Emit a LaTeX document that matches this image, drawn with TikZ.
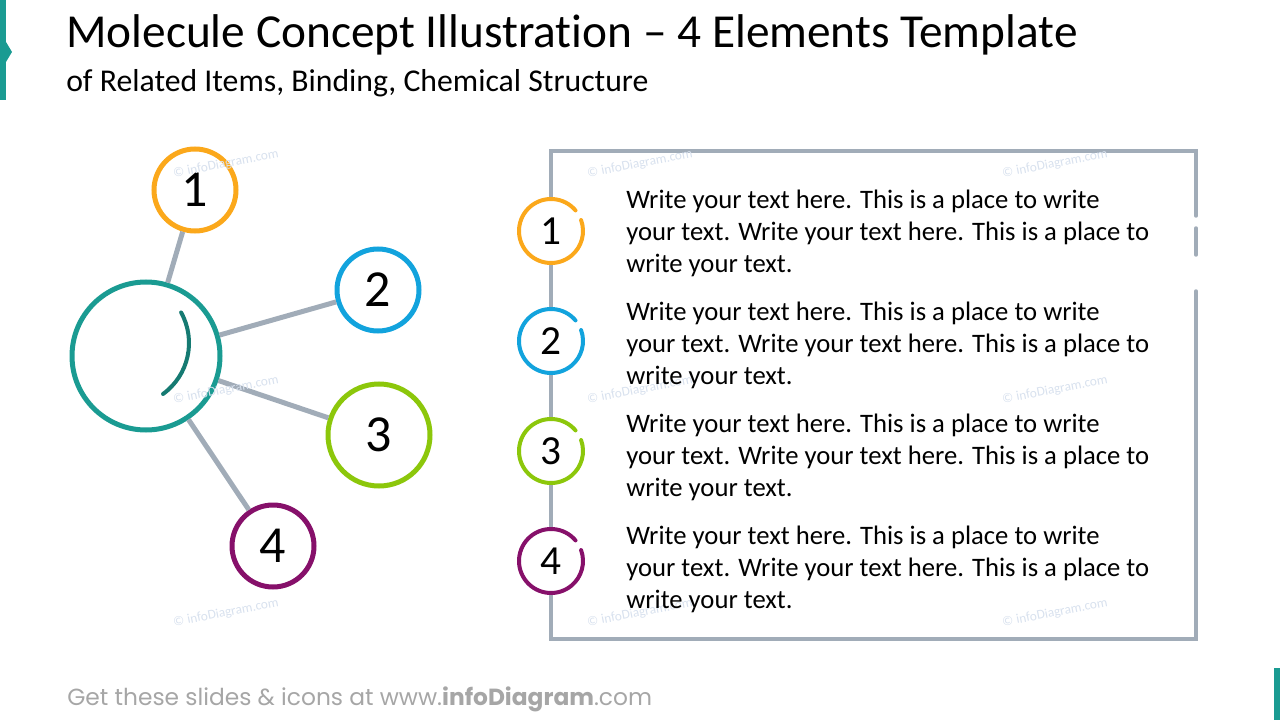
\documentclass[tikz,border=0pt]{standalone}
\usepackage{fontspec}
\setmainfont{Carlito}[Ligatures=CommonOff]
\newfontfamily\footfont{Poppins}
\usepackage{xcolor}
\usetikzlibrary{positioning, calc}

\definecolor{tealmain}{HTML}{1A9B92}
\definecolor{tealdark}{HTML}{157A72}
\definecolor{atomorange}{HTML}{FBA81B}
\definecolor{atomblue}{HTML}{12A3DD}
\definecolor{atomgreen}{HTML}{8CC70B}
\definecolor{atompurple}{HTML}{86106A}
\definecolor{bondgray}{HTML}{A1ACB8}
\definecolor{stampblue}{HTML}{D8E1EE}
\definecolor{footgray}{HTML}{A6A6A6}

\begin{document}
\begin{tikzpicture}[x=0.75pt, y=-0.75pt,
        atom/.style={circle, draw, fill=white, line width=3.75pt, minimum size=61.5pt, inner sep=0pt, font=\fontsize{39}{44}\selectfont},
        bond/.style={draw=bondgray, line width=3.75pt},
        bullet/.style={circle, fill=white, minimum size=48pt, inner sep=0pt, outer sep=0pt, font=\fontsize{31}{36}\selectfont},
        ring/.style={line width=3pt, line cap=round},
        frame/.style={draw=bondgray, line width=2.6pt, line cap=round},
        note/.style={anchor=west, align=left, inner sep=0pt, font=\fontsize{20}{24}\selectfont},
        stamp/.style={text=stampblue, rotate=11, font=\fontsize{10}{12}\selectfont}]

        \useasboundingbox (0,0) rectangle (1280,720);

        % Header
        \fill [tealmain] (0,0) rectangle (6,100);
        \fill [tealmain] (6,42) -- (12,52) -- (6,62) -- cycle;
        \node [anchor=base west, inner sep=0pt, font=\fontsize{35.5}{40}\selectfont] (title) at (66,48) {Molecule Concept Illustration – 4 Elements Template};
        \node [anchor=base west, inner sep=0pt, font=\fontsize{23.8}{28}\selectfont] (subtitle) at (66,92) {of Related Items, Binding, Chemical Structure};

        % Molecule
        \node [atom, draw=tealmain, minimum size=111pt] (core) at (146,356) {};
        \node [atom, draw=atomorange] (atom1) at (195,190) {1};
        \node [atom, draw=atomblue] (atom2) at (378,290) {2};
        \node [atom, draw=atomgreen, minimum size=76.5pt] (atom3) at (379,435) {3};
        \node [atom, draw=atompurple] (atom4) at (273,546) {4};
        \draw [tealdark, line width=3pt, line cap=round] ([shift={(-20,-13)}]core.center) ++(29:47.25pt) arc[start angle=29, end angle=-54, radius=47.25pt];

        % Bonds
        \path [bond] (core) -- (atom1);
        \path [bond] (core) -- (atom2);
        \path [bond] (core) -- (atom3);
        \path [bond] (core) -- (atom4);

        % Text frame
        \coordinate (frametl) at (551,151);
        \coordinate (framebr) at (1196,639);
        \draw [frame] (1196,216) |- (frametl) |- (framebr) -- (1196,291);
        \draw [frame] (1196,228) -- (1196,255);

        % Watermarks
        \foreach \wx in {226,640,1055}
            \foreach \wy in {164,390,613}
                \node [stamp] at (\wx,\wy) {© infoDiagram.com};

        % List
        \foreach \i/\y/\c in {1/231/atomorange, 2/341/atomblue, 3/451/atomgreen, 4/561/atompurple} {
            \node [bullet] (bullet\i) at (551,\y) {\i};
            \draw [ring, \c] (bullet\i.40) arc[start angle=40, end angle=380, radius=24pt];
        }
        \foreach \i/\y in {1/233, 2/345, 3/457, 4/569}
            \node [note] (note\i) at (626,\y) {Write your text here. This is a place to write\\your text. Write your text here. This is a place to\\write your text.};

        % Footer
        \node [anchor=base west, inner sep=0pt, text=footgray, font=\footfont\fontsize{17.5}{20}\selectfont] (footer) at (67,705) {Get these slides \& icons at www.\textbf{infoDiagram}.com};
        \fill [tealmain] (1274,668) rectangle (1280,720);

    \end{tikzpicture}
\end{document}
